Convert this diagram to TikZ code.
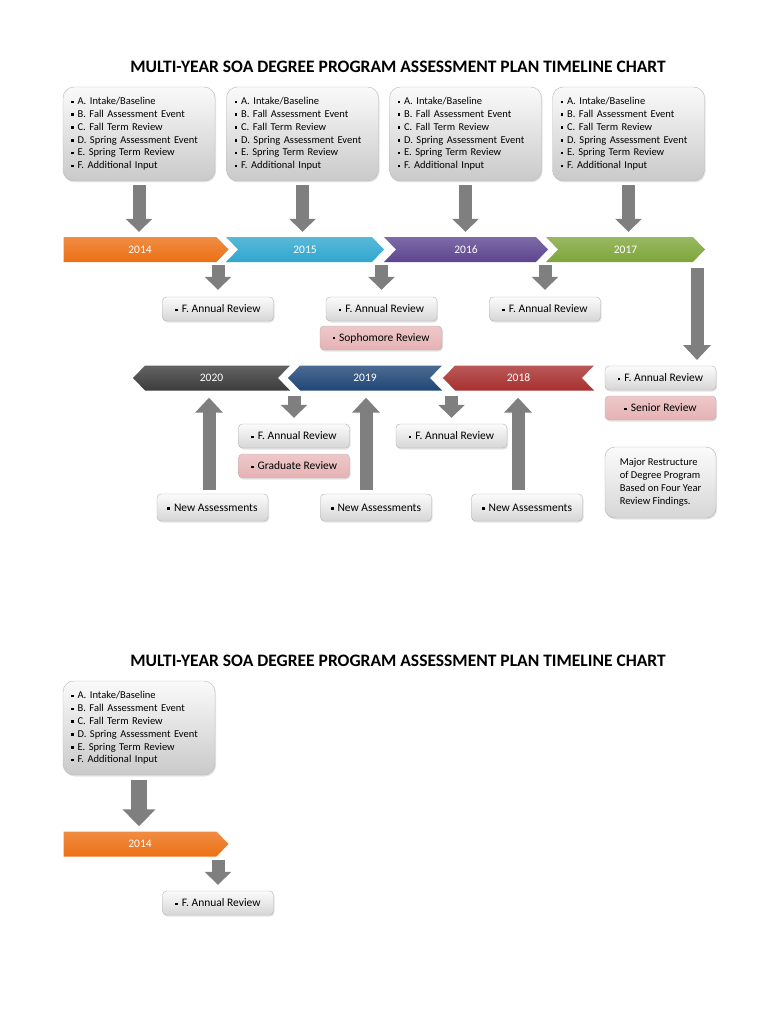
\documentclass[tikz,border=0pt]{standalone}
\usepackage{fontspec}
\setmainfont{Carlito}
\usepackage{xcolor}
\usepackage{tikz}
\usetikzlibrary{positioning,shapes.symbols,arrows.meta,shadows}

\definecolor{arrgray}{HTML}{7F7F7F}
\definecolor{c14}{HTML}{EC7014}
\definecolor{c15}{HTML}{2FA7CF}
\definecolor{c16}{HTML}{5E4590}
\definecolor{c17}{HTML}{7EA63A}
\definecolor{c18}{HTML}{A8302F}
\definecolor{c19}{HTML}{1F4676}
\definecolor{c20}{HTML}{3C3C3C}
\definecolor{pinkfill}{HTML}{E6B1B3}

\newcommand\blt{\raisebox{0.3ex}{\rule{2.6pt}{2.6pt}}\hspace{4pt}}
\newcommand\evlist{\blt A. Intake/Baseline\\ \blt B. Fall Assessment Event\\
  \blt C. Fall Term Review\\ \blt D. Spring Assessment Event\\
  \blt E. Spring Term Review\\ \blt F. Additional Input}
\newcommand\chart{MULTI-YEAR SOA DEGREE PROGRAM ASSESSMENT PLAN TIMELINE CHART}

\tikzset{
  infobox/.style={draw=gray!55, rounded corners=11pt, top color=gray!4, bottom color=gray!42,
    minimum width=152pt, minimum height=94pt, inner xsep=8pt, text width=136pt, align=left,
    font=\fontsize{10.5}{12.8}\selectfont, drop shadow={opacity=0.2,shadow xshift=1pt,shadow yshift=-1.5pt}},
  revbox/.style={draw=gray!60, rounded corners=4pt, top color=gray!3, bottom color=gray!32,
    minimum width=111pt, minimum height=24pt, inner sep=0pt, font=\fontsize{11.5}{13}\selectfont,
    drop shadow={opacity=0.2,shadow xshift=1pt,shadow yshift=-1.5pt}},
  pinkbox/.style={revbox, top color=pinkfill!70!white, bottom color=pinkfill},
  yearbar/.style={signal, signal pointer angle=92, minimum height=25pt, inner sep=0pt,
    text=white, font=\fontsize{11.5}{13}\selectfont},
  blockarr/.style={draw=arrgray, line width=13pt, -{Triangle[width=26pt,length=13pt]}},
  headline/.style={font=\fontsize{17.5}{20}\selectfont\bfseries}
}

\begin{document}
\begin{tikzpicture}[x=1pt,y=-1pt]
\useasboundingbox[fill=white] (0,0) rectangle (768,1024);

\node[headline] (title) at (398,67) {\chart};

% event lists
\foreach \x/\n in {139/1, 302.5/2, 465.5/3, 628.5/4} {
  \node[infobox] (box\n) at (\x,134) {\evlist};
}

% first row of years
\foreach \x/\w/\yr/\col/\frm in {140/165/2014/c14/nowhere, 305/158/2015/c15/west,
                                 466/164/2016/c16/west, 625.5/159/2017/c17/west} {
  \node[yearbar, signal to=east, signal from=\frm, minimum width=\w pt,
        top color=\col!80!white, bottom color=\col] (y\yr) at (\x,249.5) {\yr};
}
% second row, running back
\foreach \x/\w/\yr/\col in {518.5/151/2018/c18, 365/154/2019/c19, 211.5/157/2020/c20} {
  \node[yearbar, signal to=west, signal from=east, minimum width=\w pt,
        top color=\col!80!white, bottom color=\col] (y\yr) at (\x,378) {\yr};
}

\node[revbox] (ann1) at (218,309) {\blt F. Annual Review};
\node[revbox] (ann2) at (381.5,309) {\blt F. Annual Review};
\node[revbox] (ann3) at (545,309) {\blt F. Annual Review};
\node[pinkbox, minimum width=122pt] (soph) at (381,338) {\blt Sophomore Review};
\node[revbox] (ann4) at (660.5,378) {\blt F. Annual Review};
\node[pinkbox] (senior) at (660.5,408) {\blt Senior Review};
\node[revbox] (ann5) at (294,436) {\blt F. Annual Review};
\node[pinkbox] (grad) at (294,466) {\blt Graduate Review};
\node[revbox] (ann6) at (451.5,436) {\blt F. Annual Review};
\node[revbox, rounded corners=10pt, minimum height=71pt, align=left, font=\fontsize{10.5}{13}\selectfont]
  (major) at (660.5,482.5) {Major Restructure\\ of Degree Program\\ Based on Four Year\\ Review Findings.};
\foreach \x/\n in {212.5/1, 376/2, 527/3} {
  \node[revbox, minimum height=27pt] (new\n) at (\x,507.5) {\blt New Assessments};
}

% arrows
\foreach \n/\yr in {1/2014, 2/2015, 3/2016, 4/2017} {
  \draw[blockarr] ([yshift=-4pt]box\n.south) -- ([yshift=5pt]box\n.south |- y\yr.north);
}
\foreach \n/\yr in {1/2014, 2/2015, 3/2016} {
  \draw[blockarr] ([yshift=-3pt]ann\n.north |- y\yr.south) -- ([yshift=7pt]ann\n.north);
}
\coordinate (drop) at (697,360);
\draw[blockarr, -{Triangle[width=27pt,length=15pt]}] ([yshift=-6pt]y2017.south -| drop) -- (drop);
\draw[blockarr] ([yshift=-5pt]ann5.north |- y2019.south) -- ([yshift=6pt]ann5.north);
\draw[blockarr] ([yshift=-5pt]ann6.north |- y2018.south) -- ([yshift=6pt]ann6.north);
\foreach \n/\yr/\dx in {1/2020/-3.5, 2/2019/-10, 3/2018/-9} {
  \draw[blockarr, -{Triangle[width=27pt,length=15pt]}] ([xshift=\dx pt,yshift=4pt]new\n.north)
    -- ([xshift=\dx pt,yshift=-7pt]new\n.north |- y\yr.south);
}

% second copy
\node[headline] (title2) at (398,661) {\chart};
\node[infobox] (box5) at (139,728) {\evlist};
\node[yearbar, signal to=east, minimum width=165pt, top color=c14!80!white, bottom color=c14]
  (z2014) at (140,844) {2014};
\node[revbox] (ann7) at (218,903) {\blt F. Annual Review};
\draw[blockarr, line width=16pt, -{Triangle[width=32pt,length=17pt]}]
  ([yshift=-5pt]box5.south) -- ([yshift=5pt]box5.south |- z2014.north);
\draw[blockarr] ([yshift=-3pt]ann7.north |- z2014.south) -- ([yshift=6pt]ann7.north);
\end{tikzpicture}
\end{document}
